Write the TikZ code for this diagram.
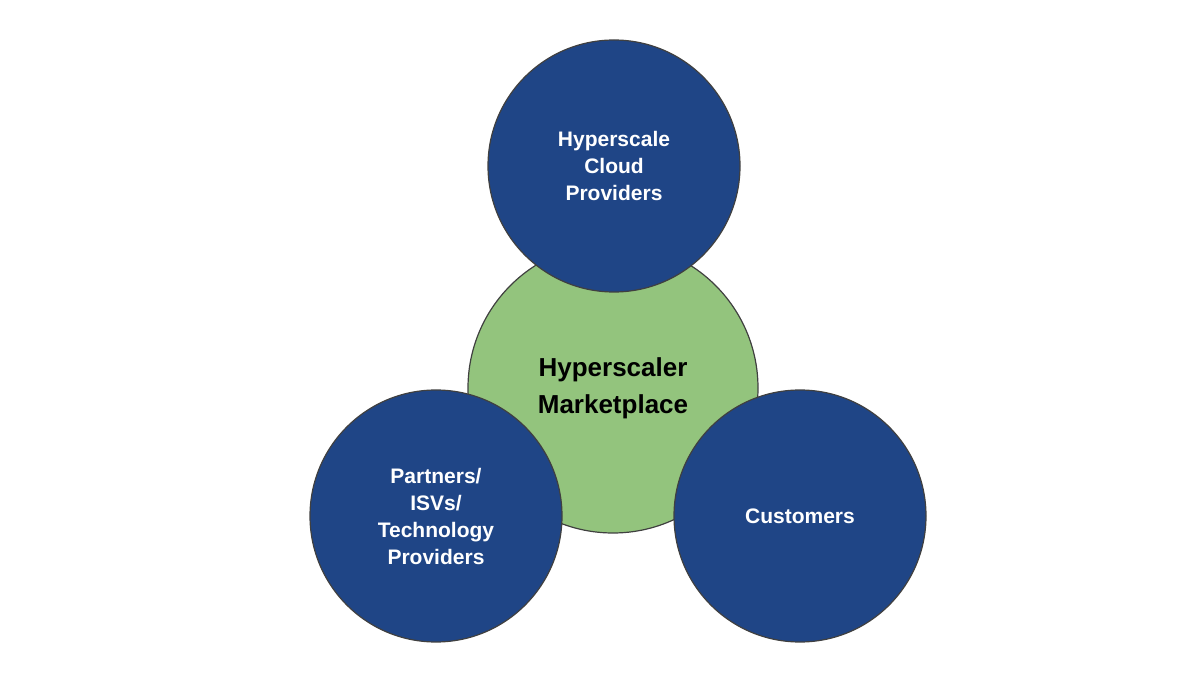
\documentclass[tikz,border=0pt]{standalone}
\usepackage{fontspec}
\setmainfont{Liberation Sans}
\definecolor{bluec}{HTML}{1F4586}
\definecolor{greenc}{HTML}{93C47D}
\definecolor{edgec}{HTML}{404040}
\begin{document}
\begin{tikzpicture}[x=1pt,y=-1pt,
  circ/.style={circle,draw=edgec,line width=1.2pt,inner sep=0pt,align=center,font=\bfseries},
  bluecirc/.style={circ,fill=bluec,text=white,minimum size=252pt,font=\bfseries\fontsize{21}{27}\selectfont},
  greencirc/.style={circ,fill=greenc,text=black,minimum size=290pt,font=\bfseries\fontsize{26}{37}\selectfont}]
\useasboundingbox (0,0) rectangle (1200,692);
\node[greencirc] (m) at (613,388) {Hyperscaler\\Marketplace};
\node[bluecirc] (h) at (614,166) {Hyperscale\\Cloud\\Providers};
\node[bluecirc] (p) at (436,516) {Partners/\\ISVs/\\Technology\\Providers};
\node[bluecirc] (c) at (800,516) {Customers};
\end{tikzpicture}
\end{document}
